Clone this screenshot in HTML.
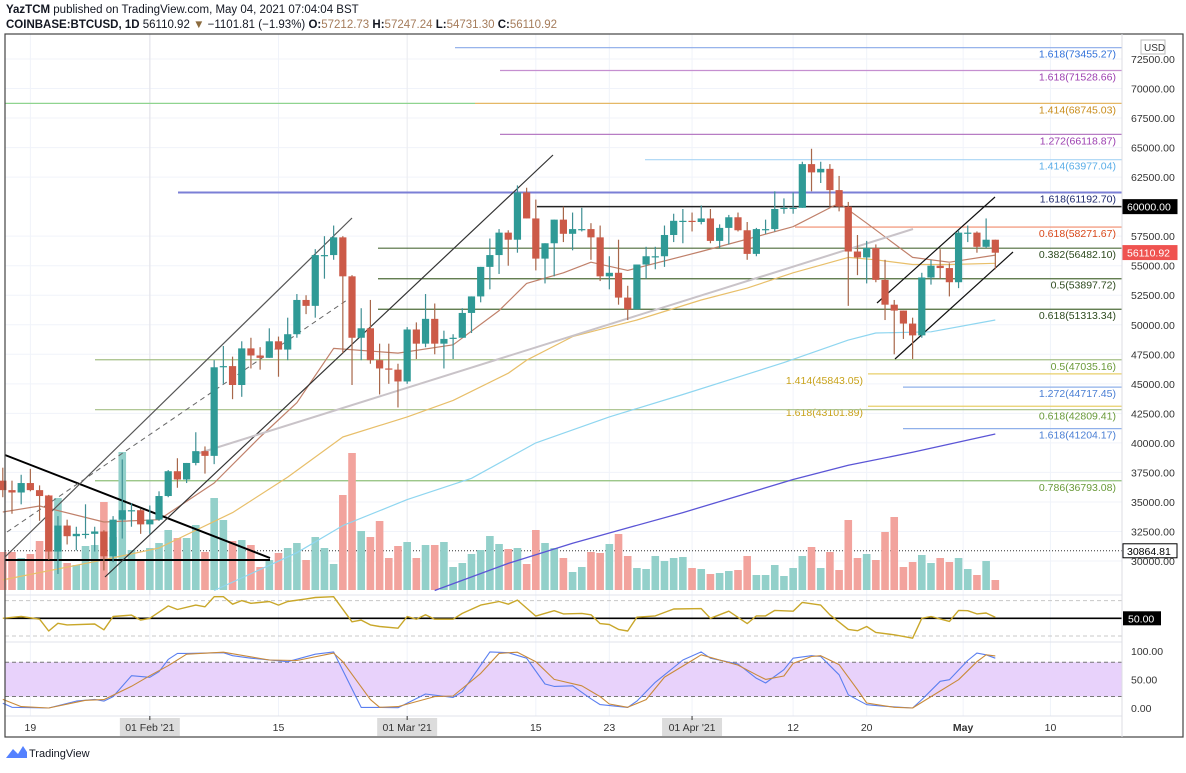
<!DOCTYPE html>
<html><head><meta charset="utf-8">
<style>
html,body{margin:0;padding:0;background:#fff;}
body{width:1186px;height:768px;overflow:hidden;font-family:"Liberation Sans",sans-serif;}
svg text{font-family:"Liberation Sans",sans-serif;}
</style></head>
<body>
<svg id="chart" width="1186" height="768" viewBox="0 0 1186 768" xmlns="http://www.w3.org/2000/svg">
<text x="6" y="13" font-size="11.5" fill="#131722"><tspan font-weight="bold">YazTCM</tspan> published on TradingView.com, May 04, 2021 07:04:04 BST</text>
<text x="6" y="28" font-size="11.5" fill="#131722"><tspan font-weight="bold">COINBASE:BTCUSD, 1D</tspan> 56110.92 <tspan fill="#8b6b3e">▼</tspan> −1101.81 (−1.93%) <tspan font-weight="bold">O:</tspan><tspan fill="#a57c5b">57212.73</tspan> <tspan font-weight="bold">H:</tspan><tspan fill="#a57c5b">57247.24</tspan> <tspan font-weight="bold">L:</tspan><tspan fill="#a57c5b">54731.30</tspan> <tspan font-weight="bold">C:</tspan><tspan fill="#a57c5b">56110.92</tspan></text>
<g id="grid"></g>
<g id="hlines"></g>
<g id="vol"></g>
<g id="mas"></g>
<g id="drawings">
<line x1="5" y1="455" x2="270" y2="558" stroke="#000" stroke-width="2"/>
<line x1="5" y1="560" x2="270" y2="560" stroke="#000" stroke-width="2"/>
<line x1="5" y1="557" x2="352" y2="218" stroke="#555" stroke-width="1.2"/>
<line x1="105" y1="577" x2="553" y2="155" stroke="#333" stroke-width="1.2"/>
<line x1="7" y1="532" x2="347" y2="300" stroke="#666" stroke-width="1" stroke-dasharray="5,4"/>
<line x1="193" y1="455" x2="913" y2="229" stroke="#c9c3c8" stroke-width="2"/>
<line x1="877" y1="303" x2="995" y2="197" stroke="#111" stroke-width="1.2"/>
<line x1="895" y1="359" x2="1013" y2="252" stroke="#111" stroke-width="1.2"/>
</g>
<g id="candles"></g>
<g id="rsi"></g>
<g id="stoch"></g>
<g id="axes"></g>
<g>
<path d="M6 758 L13 749 L18 754 L23 746 L27 752 L27 758 Z" fill="#2962ff" opacity="0.8"/>
<text x="29" y="757" font-size="11" fill="#131722">TradingView</text>
</g>
</svg>
<script>
const closes=[36.0,35.8,36.6,36.0,35.5,30.8,33.0,32.1,32.3,32.3,32.5,30.4,33.5,34.3,34.3,33.1,
33.5,35.5,37.6,36.9,38.3,39.3,38.9,46.4,46.5,44.9,48.0,47.4,47.2,48.6,47.9,49.2,52.1,51.6,55.9,55.9,57.4,54.1,48.9,49.7,47.0,46.3,46.2,45.2,
49.6,48.4,50.5,48.4,48.8,48.9,51.0,52.4,54.9,55.9,57.8,57.2,61.2,59.0,55.6,56.9,58.9,57.7,58.1,58.1,57.4,54.1,54.4,52.3,51.3,55.1,55.8,55.8,57.6,58.8,58.8,
58.7,59.0,57.1,58.2,59.1,58.0,56.0,58.1,58.1,59.8,59.9,59.9,63.6,62.9,63.2,61.4,60.0,56.2,55.7,56.5,53.8,51.7,51.2,50.1,49.1,54.0,55.0,54.8,53.6,57.8,
57.8,56.6,57.2,56.1];
const opens=[36.8,36.0,35.8,36.6,36.0,35.5,30.8,33.0,32.1,32.3,32.3,32.5,30.4,33.5,34.3,34.3,
33.1,33.5,35.5,37.6,36.9,38.3,39.3,38.9,46.4,46.5,44.9,48.0,47.4,47.2,48.6,47.9,49.2,52.1,51.6,55.9,55.9,57.4,54.1,48.9,49.7,47.0,46.3,46.2,
45.2,49.6,48.4,50.5,48.4,48.8,48.9,51.0,52.4,54.9,55.9,57.8,57.2,61.2,59.0,55.6,56.9,58.9,57.7,58.1,58.1,57.4,54.1,54.4,52.3,51.3,55.1,55.8,55.8,57.6,58.8,
58.8,58.7,59.0,57.1,58.2,59.1,58.0,56.0,58.1,58.1,59.8,59.9,59.9,63.6,62.9,63.2,61.4,60.0,56.2,55.7,56.5,53.8,51.7,51.2,50.1,49.1,54.0,55.0,54.8,53.6,
57.8,57.8,56.6,57.2];
const highs=[37.9,36.8,37.3,37.8,36.4,35.6,33.8,33.5,32.9,34.8,32.9,32.6,33.8,38.6,34.9,34.4,
34.7,35.9,37.7,38.7,38.3,40.9,39.7,47.0,48.2,47.3,48.6,48.9,48.1,49.7,49.0,50.6,52.6,52.5,56.4,57.5,58.4,57.5,54.2,51.4,52.1,48.4,48.4,46.7,
49.8,50.2,52.6,51.8,49.5,49.2,51.4,52.4,54.9,57.3,58.1,58.0,61.8,61.6,60.6,56.9,58.9,60.0,59.5,59.9,58.6,58.4,55.8,57.2,53.3,55.1,56.6,56.6,58.4,59.4,59.8,
59.5,60.1,59.8,58.5,59.3,59.5,58.7,58.2,58.9,61.3,60.7,61.2,63.8,64.9,63.8,63.6,62.6,60.4,57.6,57.1,56.8,55.5,52.1,51.2,50.6,54.4,55.5,56.4,55.2,58.0,
58.4,57.9,59.0,57.2];
const lows=[35.4,34.0,34.8,35.9,33.4,30.1,28.9,31.4,30.9,31.9,30.8,29.2,29.9,31.9,32.9,32.3,
32.3,33.4,35.4,36.2,36.6,38.1,37.4,38.2,45.0,43.7,43.9,46.3,46.2,47.2,45.6,47.0,48.9,50.9,50.6,53.9,55.5,47.6,44.9,47.0,46.7,44.1,45.0,43.0,
45.0,47.1,48.1,47.5,46.3,47.1,48.9,49.3,51.9,53.0,54.3,55.0,56.1,59.0,54.6,53.5,54.1,57.0,56.3,57.9,55.5,53.7,53.0,51.7,50.4,51.3,53.9,54.7,54.9,57.0,56.9,
57.9,58.5,56.9,56.5,56.8,57.9,55.5,55.8,57.7,57.9,59.4,59.4,59.9,61.3,62.0,60.0,59.6,51.6,54.2,53.5,53.6,50.4,47.5,48.8,47.1,48.9,53.4,53.9,52.4,53.1,
57.0,56.1,56.5,54.7];
const volumes=[38,38,32,36,49,95,92,27,25,44,45,88,53,138,40,30,42,47,60,52,52,65,38,92,70,49,50,45,23,30,37,42,47,30,53,42,26,95,137,59,53,69,32,44,48,32,45,45,48,23,27,36,40,54,46,41,42,26,60,47,42,32,18,23,38,37,46,56,34,22,21,34,29,32,33,22,21,16,17,19,20,34,15,15,25,14,22,34,43,22,38,20,70,32,36,30,58,73,23,28,35,27,32,28,32,21,15,29,10];
const ma20Days=[0,4,11,17,23,28,32,36,43,49,54,57,61,64,68,76,86,91,94,99,103,108];
const ma20Vals=[34.15,34.66,33.3,33.5,36.6,40.5,43.4,48.0,47.6,48.3,51.2,53.5,54.4,55.3,54.6,56.2,58.3,60.3,58.6,55.7,55.3,55.9];
const ma50Days=[0,11,17,25,31,37,44,49,55,57,62,66,69,76,81,86,92,95,99,103,108];
const ma50Vals=[28.4,30.1,31.1,34.1,37.1,40.5,42.2,43.6,45.9,47.0,49.0,49.8,50.4,52.1,53.1,54.4,55.7,55.5,55.1,55.1,55.2];
const ma100Days=[23,32,37,44,51,58,66,74,85,92,95,101,108];
const ma100Vals=[27.5,30.7,33.0,35.2,37.0,40.0,42.2,44.1,46.8,48.7,49.3,49.4,50.4];
const ma200Days=[47,55,62,68,74,86,92,99,108];
const ma200Vals=[27.5,29.8,31.5,32.8,34.1,36.9,38.1,39.2,40.75];
// RSI (day, value)
const rsiDays=[0,2,4,5,6,7,10,11,12,14,15,16,18,19,21,22,23,24,25,26,27,29,30,31,33,34,36,38,39,40,41,43,44,45,46,47,49,50,52,54,55,56,58,60,61,63,64,65,66,67,68,69,71,73,76,77,79,81,82,83,84,86,87,89,90,92,93,94,95,97,98,99,100,101,103,104,105,106,107,108];
const rsiVals=[50,52,49,35.6,44.3,42.5,43.6,37,52,53.6,48,50,64,60,65,63,74.5,74.5,66,70,67,69,65,69,72,73.6,74.5,46,48,42.5,40.7,38.8,52,49,54,49,49,55.6,65,69,66,70.6,52.5,58.6,55,55.6,54,44,43,37.4,35.6,51.3,52.7,60.5,61,50,58,44,52.7,52.7,59,58,68,65,54,37.4,36,40.7,34,31.3,29.5,27.5,50,52,46.5,59,58.6,55,56,51.3];
const kDays=[0,1,5,8,10,11,12,14,16,17,18,19,20,24,25,27,31,34,36,39,41,43,46,49,50,53,55,57,59,60,62,64,65,68,69,71,74,76,77,80,82,83,85,86,88,89,91,92,94,96,99,100,102,103,105,106,107,108];
const kVals=[8.2,1.3,0,12,15,12,20,56.5,53.6,63.5,85,95.5,95.5,96.7,91.4,87,81,94,98,1,1,0.5,24.5,18.6,28.5,98,96.7,87,42,37.7,38.8,16,6,1,12,45,84,98,87,77,52,43.7,67,87,91.4,90,58,23,5.8,2.9,0,14.7,46.7,49.5,83,96,93,87];
const dDays=[0,2,5,9,11,14,16,18,20,24,29,32,36,37,40,41,43,47,49,52,54,56,58,60,63,65,66,68,70,72,75,76,78,80,82,83,85,86,88,89,91,93,94,97,99,101,104,106,107,108];
const dVals=[15,2.5,0,13.5,14.7,38,56.5,74,94,97.6,84,83,96,81,14.7,1.3,2.5,20,21,60.5,95.5,97.6,81,50,38.8,20,7,1.3,14.7,54,83,93,84,75,58,50,56,78,90,91.4,75.8,32,8.7,1.3,0,20,49.5,81,93,91];
const priceTicks=[72500,70000,67500,65000,62500,57500,55000,52500,50000,47500,45000,42500,40000,37500,35000,32500,30000];
const dateLabels=["19","01 Feb '21","15","01 Mar '21","15","23","01 Apr '21","12","20","May","10"];
const dateDays=[3,16,30,44,58,66,75,86,94,104.5,114];
const fibLabels=["1.618(73455.27)","1.618(71528.66)","1.414(68745.03)","1.272(66118.87)","1.414(63977.04)","1.618(61192.70)","0.618(58271.67)","0.382(56482.10)","0.5(53897.72)","0.618(51313.34)","0.5(47035.16)","1.414(45843.05)","1.272(44717.45)","1.618(43101.89)","0.618(42809.41)","1.618(41204.17)","0.786(36793.08)"];
const fibPrices=[73455.27,71528.66,68745.03,66118.87,63977.04,61192.70,58271.67,56482.10,53897.72,51313.34,47035.16,45843.05,44717.45,43101.89,42809.41,41204.17,36793.08];

const NS="http://www.w3.org/2000/svg";
const X=d=>2.8+9.19*d;
const Y=p=>561-(p-30000)/2500*29.53;
const YK=k=>Y(k*1000);
const VY=v=>590-v;
const RY=r=>618.3-(r-50)*0.883;
const SY=s=>708-s*0.572;
function mk(parent,tag,attrs){const e=document.createElementNS(NS,tag);for(const k in attrs)e.setAttribute(k,attrs[k]);document.getElementById(parent).appendChild(e);return e;}

for(const p of priceTicks){const g=mk('grid','line',{x1:5,x2:1122,y1:Y(p),y2:Y(p),stroke:'#f0f3fa','stroke-width':1});

}
for(const d of dateDays){const g=mk('grid','line',{x1:X(d),x2:X(d),y1:34,y2:716,stroke:'#f0f3fa','stroke-width':1});

}
mk('grid','line',{x1:X(16),x2:X(16),y1:34,y2:595,stroke:'#e4e4ea','stroke-width':1.2});
mk('grid','line',{x1:X(44),x2:X(44),y1:34,y2:595,stroke:'#ececf0','stroke-width':1});

const fibStart=[455,500,475,500,645,178,795,378,378,378,95,868,903,868,95,903,95];
const fibLine=['#8aa9e8','#c58fd0','#e5b866','#b77cc4','#a8d4f5','#7b7fd6','#f08a6a','#4e6b3a','#4e6b3a','#4e6b3a','#a5bf86','#e8cf6a','#8fb0ea','#e8cf6a','#a5bf86','#8fb0ea','#8fbf7a'];
const fibText=['#2f6fd9','#9c3fb0','#c98d1c','#9c3fb0','#5aaee8','#1f2a6e','#d9481a','#2d4a1e','#2d4a1e','#2d4a1e','#6a9a3a','#c8a21a','#4a7fd4','#c8a21a','#6a9a3a','#4a7fd4','#6a9a3a'];
mk('hlines','line',{x1:5,x2:475,y1:Y(68745),y2:Y(68745),stroke:'#8fd48f','stroke-width':1.2});
fibPrices.forEach((p,i)=>{
 const l=mk('hlines','line',{x1:fibStart[i],x2:1122,y1:Y(p),y2:Y(p),stroke:fibLine[i],'stroke-width':(i==5?2:1.2)});
 
 
 const left=(i==11||i==13);
 const t=mk('hlines','text',{x:left?863:1116,y:Y(p)+10,'text-anchor':'end','font-size':10.5,fill:fibText[i]});
 t.textContent=fibLabels[i];
 
 
});
mk('hlines','line',{x1:537,x2:1122,y1:Y(60000),y2:Y(60000),stroke:'#222','stroke-width':1.5});
mk('hlines','line',{x1:5,x2:1122,y1:Y(30864.81),y2:Y(30864.81),stroke:'#333','stroke-width':1,'stroke-dasharray':'1,2'});

volumes.forEach((v,i)=>{const up=closes[i]>=opens[i];
 const r=mk('vol','rect',{x:X(i)-3.8,y:VY(v),width:7.6,height:v,fill:up?'#93d0ca':'#f2a39d'});
 
 });

function pl(g,days,vals,yf,color,w,name){const pts=days.map((d,i)=>X(d).toFixed(1)+','+yf(vals[i]).toFixed(1)).join(' ');
 const e=mk(g,'polyline',{points:pts,fill:'none',stroke:color,'stroke-width':w,'stroke-linejoin':'round'});
 
 }
pl('mas',ma20Days,ma20Vals,YK,'#c0806a',1.2,'ma-20');
pl('mas',ma50Days,ma50Vals,YK,'#e8bf6a',1.2,'ma-50');
pl('mas',ma100Days,ma100Vals,YK,'#8fd6f0',1.2,'ma-100');
pl('mas',ma200Days,ma200Vals,YK,'#5b55d6',1.3,'ma-200');

closes.forEach((c,i)=>{const o=opens[i],up=c>=o,col=up?'#2f9a96':'#cc5a48';const x=X(i);
 const w=mk('candles','line',{x1:x,x2:x,y1:YK(highs[i]),y2:YK(lows[i]),stroke:up?'#3f8f94':'#a8674a','stroke-width':1.2});
 
 
 const top=YK(Math.max(o,c)),h=Math.max(1.2,Math.abs(YK(o)-YK(c)));
 const b=mk('candles','rect',{x:x-3.6,y:top,width:7.2,height:h,fill:col});
 
 });

mk('rsi','line',{x1:5,x2:1122,y1:595,y2:595,stroke:'#e0e3eb'});
mk('rsi','line',{x1:5,x2:1122,y1:RY(70),y2:RY(70),stroke:'#c8c8c8','stroke-dasharray':'4,3'});
mk('rsi','line',{x1:5,x2:1122,y1:RY(30),y2:RY(30),stroke:'#c8c8c8','stroke-dasharray':'4,3'});
mk('rsi','line',{x1:5,x2:1122,y1:RY(50),y2:RY(50),stroke:'#000','stroke-width':1.6});
pl('rsi',rsiDays,rsiVals,RY,'#c9a72a',1.4,'rsi-line');
mk('rsi','line',{x1:5,x2:1122,y1:642,y2:642,stroke:'#e0e3eb'});

mk('stoch','rect',{x:5,y:SY(80),width:1117,height:SY(20)-SY(80),fill:'#e8d2fb'});
mk('stoch','line',{x1:5,x2:1122,y1:SY(80),y2:SY(80),stroke:'#777','stroke-dasharray':'4,3'});
mk('stoch','line',{x1:5,x2:1122,y1:SY(20),y2:SY(20),stroke:'#777','stroke-dasharray':'4,3'});
pl('stoch',kDays,kVals,SY,'#5b7ff0',1.1,'stoch-k-line');
pl('stoch',dDays,dVals,SY,'#c98a3a',1.1,'stoch-d-line');
mk('stoch','line',{x1:5,x2:1122,y1:716,y2:716,stroke:'#e0e3eb'});

mk('axes','rect',{x:5,y:34,width:1178,height:703,fill:'none',stroke:'#444','stroke-width':1.2});
mk('axes','line',{x1:1122,x2:1122,y1:34,y2:737,stroke:'#dcdde3'});
priceTicks.forEach(p=>{const t=mk('axes','text',{x:1131,y:Y(p)+4,'font-size':10.5,fill:'#333'});t.textContent=p.toFixed(2);
 
 });
mk('axes','rect',{x:1141,y:40,width:24,height:14,fill:'#fff',stroke:'#bbb'});
const usd=mk('axes','text',{x:1144,y:51,'font-size':10,fill:'#333'});usd.textContent='USD';
function tag(price,label,bg,fg,stroke){const y=Y(price);mk('axes','rect',{x:1123,y:y-7,width:54,height:14,fill:bg,stroke:stroke||bg});
 const t=mk('axes','text',{x:1127,y:y+4,'font-size':10.5,fill:fg});t.textContent=label;
 
 }
tag(60000,'60000.00','#000','#fff');
tag(56110.92,'56110.92','#ef5350','#fff');
tag(30864.81,'30864.81','#fff','#000','#000');
mk('axes','rect',{x:1123,y:RY(50)-7,width:38,height:14,fill:'#000'});
const r50=mk('axes','text',{x:1128,y:RY(50)+4,'font-size':10.5,fill:'#fff'});r50.textContent='50.00';
[[100,'100.00'],[50,'50.00'],[0,'0.00']].forEach(a=>{const t=mk('axes','text',{x:1131,y:SY(a[0])+4,'font-size':10.5,fill:'#333'});t.textContent=a[1];
 
 });
dateLabels.forEach((s,i)=>{const x=X(dateDays[i]);const boxed=s.indexOf("'")>=0;
 if(boxed){mk('axes','rect',{x:x-30,y:718,width:60,height:18,fill:'#dcdcdc'});mk('axes','line',{x1:x,x2:x,y1:716,y2:720,stroke:'#333'});}
 const t=mk('axes','text',{x:x,y:731,'text-anchor':'middle','font-size':10.5,fill:'#333','font-weight':s=='May'?'bold':'normal'});t.textContent=s;
 
 });
</script>
</body></html>
